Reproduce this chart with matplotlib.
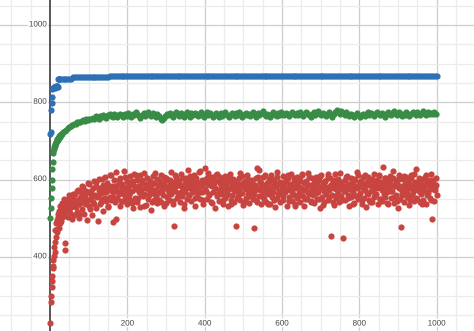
import matplotlib
matplotlib.use("Agg")
import matplotlib.pyplot as plt
import matplotlib.patheffects as pe
import numpy as np

# ---------------- data ----------------
red_x = list(range(1, 41)) + list(range(42, 1001, 2))
red_y = [
    230, 284, 300, 321, 338, 350, 371, 377, 392, 402, 426, 413, 439, 470, 452, 488, 495, 471, 465, 503,
    512, 476, 520, 498, 531, 488, 507, 525, 493, 540, 517, 502, 534, 514, 549, 505, 528, 418, 436, 545,
    531, 548, 503, 560, 522, 514, 541, 497, 556, 533, 509, 562, 528, 545, 516, 574, 538, 501, 553, 567,
    524, 546, 581, 512, 559, 537, 570, 495, 548, 589, 531, 566, 552, 508, 577, 543, 596, 561, 527, 584,
    556, 492, 573, 601, 538, 565, 549, 587, 520, 578, 607, 544, 569, 590, 533, 575, 556, 612, 548, 583,
    491, 567, 598, 541, 576, 619, 552, 585, 563, 532, 604, 571, 589, 545, 580, 623, 558, 574, 596, 537,
    582, 561, 609, 548, 593, 570, 526, 587, 615, 553, 578, 599, 542, 584, 568, 611, 530, 575, 592, 557,
    618, 564, 588, 535, 579, 603, 550, 572, 596, 521, 585, 566, 609, 547, 591, 574, 558, 601, 539, 583,
    569, 596, 543, 612, 577, 560, 590, 531, 581, 605, 554, 573, 598, 546, 586, 619, 562, 578, 537, 594,
    480, 571, 607, 553, 588, 565, 599, 542, 583, 614, 558, 576, 527, 592, 569, 603, 549, 585, 626, 561,
    579, 598, 544, 587, 568, 611, 533, 582, 604, 556, 591, 573, 620, 549, 586, 567, 600, 538, 594, 629,
    575, 602, 551, 588, 617, 564, 595, 541, 583, 608, 569, 590, 526, 579, 613, 558, 597, 574, 545, 606,
    586, 563, 599, 537, 578, 610, 552, 589, 571, 531, 596, 575, 614, 548, 582, 560, 601, 543, 587, 570,
    480, 592, 557, 605, 573, 546, 588, 565, 609, 534, 581, 597, 553, 576, 611, 562, 590, 539, 584, 568,
    599, 551, 585, 475, 572, 604, 547, 630, 579, 626, 558, 593, 536, 583, 567, 608, 549, 586, 574, 542,
    590, 563, 602, 538, 577, 612, 555, 584, 569, 597, 528, 581, 606, 552, 588, 571, 543, 595, 564, 580,
    609, 547, 586, 568, 598, 531, 576, 603, 556, 589, 572, 615, 544, 582, 561, 594, 537, 579, 607, 553,
    585, 566, 600, 541, 578, 612, 557, 590, 532, 574, 596, 549, 583, 618, 562, 587, 545, 571, 604, 559,
    592, 539, 576, 608, 551, 584, 567, 599, 526, 580, 611, 555, 588, 570, 543, 596, 563, 582, 607, 548,
    574, 603, 455, 586, 560, 595, 535, 579, 614, 552, 589, 568, 601, 541, 577, 593, 557, 585, 450, 571,
    598, 546, 583, 610, 561, 588, 533, 575, 604, 555, 591, 569, 540, 584, 600, 558, 579, 613, 549, 586,
    566, 597, 537, 581, 606, 553, 589, 572, 528, 594, 563, 608, 547, 585, 570, 601, 542, 578, 615, 559,
    588, 564, 599, 536, 582, 610, 551, 593, 574, 544, 633, 580, 603, 556, 590, 567, 538, 597, 576, 609,
    552, 586, 571, 604, 539, 583, 598, 560, 592, 527, 577, 611, 549, 478, 584, 566, 601, 543, 589, 573,
    606, 555, 581, 597, 534, 578, 612, 561, 587, 568, 545, 594, 575, 627, 550, 583, 604, 541, 590, 563,
    579, 602, 548, 586, 570, 611, 537, 592, 565, 584, 599, 553, 614, 498, 576, 588, 545, 581, 603, 559,
]

red_x2 = list(range(43, 1000, 4))
red_y2 = [
    519, 542, 556, 528, 563, 537, 548, 571, 512, 554, 583, 539, 566, 547, 590, 524, 571, 558, 536, 594,
    561, 579, 543, 602, 567, 552, 588, 529, 574, 611, 556, 583, 497, 569, 598, 544, 581, 562, 607, 550,
    587, 568, 540, 596, 575, 612, 553, 584, 566, 599, 531, 578, 604, 559, 589, 543, 572, 616, 561, 585,
    548, 592, 570, 607, 539, 581, 563, 598, 575, 545, 613, 584, 557, 592, 568, 603, 537, 579, 596, 560,
    610, 574, 589, 552, 597, 566, 621, 583, 548, 592, 571, 605, 559, 586, 540, 598, 577, 615, 563, 590,
    571, 546, 600, 583, 561, 609, 537, 588, 574, 596, 552, 580, 618, 566, 591, 543, 584, 602, 557, 578,
    596, 562, 585, 542, 607, 573, 590, 555, 612, 579, 536, 593, 568, 601, 547, 584, 620, 563, 589, 571,
    558, 594, 577, 611, 545, 586, 568, 603, 531, 582, 597, 561, 615, 574, 549, 590, 567, 606, 541, 583,
    601, 565, 588, 550, 609, 579, 534, 596, 572, 614, 556, 585, 543, 598, 576, 561, 592, 617, 548, 581,
    570, 606, 553, 589, 575, 538, 601, 582, 619, 560, 593, 547, 578, 611, 565, 587, 542, 599, 574, 556,
    594, 577, 612, 549, 586, 563, 604, 539, 582, 597, 570, 621, 556, 588, 545, 601, 575, 559, 609, 580,
    565, 591, 548, 603, 579, 614, 552, 587, 570, 598, 536, 583, 608, 561, 594, 575, 547, 600, 572, 586,
]

green_x = list(range(1, 31)) + list(range(34, 1001, 4))
green_y = [
    501, 527, 553, 578, 599, 627, 646, 669, 675, 680, 684, 688, 690, 693, 696, 698, 701, 703, 705, 703,
    708, 710, 707, 712, 714, 711, 716, 718, 715, 719,
    722, 726, 729, 733, 736, 738, 741, 744, 745, 748, 750, 748, 752, 754, 752, 756, 755, 758, 757, 760,
    758, 764, 761, 756, 765, 762, 768, 763, 759, 766, 769, 764, 761, 770, 766, 762, 768, 771, 766, 763,
    770, 765, 773, 767, 762, 771, 766, 774, 769, 764, 760, 768, 772, 765, 770, 775, 768, 764, 772, 767,
    762, 770, 765, 757, 753, 759, 765, 770, 766, 772, 767, 762, 769, 774, 770, 765, 772, 767, 763, 770,
    775, 768, 763, 772, 766, 773, 769, 764, 771, 776, 768, 763, 770, 774, 766, 772, 768, 762, 767, 773,
    768, 763, 772, 765, 770, 775, 766, 761, 768, 773, 770, 764, 772, 767, 776, 769, 763, 768, 773, 766,
    771, 765, 770, 775, 768, 763, 772, 766, 773, 777, 769, 764, 771, 768, 762, 770, 775, 768, 764, 773,
    768, 776, 771, 766, 773, 769, 764, 771, 776, 769, 766, 773, 768, 775, 771, 764, 770, 776, 772, 767,
    763, 770, 775, 768, 773, 778, 771, 766, 773, 769, 764, 771, 776, 768, 762, 770, 775, 780, 776, 771,
    777, 772, 767, 774, 769, 764, 771, 766, 761, 768, 773, 766, 761, 768, 771, 765, 770, 775, 768, 773,
    770, 765, 771, 776, 769, 766, 773, 768, 763, 770, 775, 771, 766, 773, 778, 771, 768, 774, 770, 765,
    771, 768, 774, 770, 765, 771, 776, 773, 768, 774, 771, 766, 773, 778, 771, 768, 774, 770, 773, 771,
    774, 771,
]

blue_x = list(range(1, 26)) + list(range(30, 1001, 5))
blue_y = [
    718, 722, 780, 798, 815, 834, 836, 837, 838, 839, 840, 838, 839, 840, 841, 840, 839, 841, 842, 840,
    860, 860, 860, 860, 860,
    860, 860, 860, 860, 860, 860,
    865, 865, 865, 865, 865, 865, 865, 865, 865, 865, 865, 865, 865, 865, 865, 865, 865, 865, 865,
    869, 869, 869, 869, 869, 869, 869, 869, 869, 869, 869, 869, 869, 869, 869, 869, 869, 869, 869, 869,
    869, 869, 869, 869, 869, 869, 869, 869, 869, 869, 869, 869, 869, 869, 869, 869, 869, 869, 869, 869,
    869, 869, 869, 869, 869, 869, 869, 869, 869, 869, 869, 869, 869, 869, 869, 869, 869, 869, 869, 869,
    869, 869, 869, 869, 869, 869, 869, 869, 869, 869, 869, 869, 869, 869, 869, 869, 869, 869, 869, 869,
    869, 869, 869, 869, 869, 869, 869, 869, 869, 869, 869, 869, 869, 869, 869, 869, 869, 869, 869, 869,
    869, 869, 869, 869, 869, 869, 869, 869, 869, 869, 869, 869, 869, 869, 869, 869, 869, 869, 869, 869,
    869, 869, 869, 869, 869, 869, 869, 869, 869, 869, 869, 869, 869, 869, 869, 869, 869, 869, 869, 869,
    869, 869, 869, 869, 869, 869, 869, 869, 869, 869, 869, 869, 869, 869, 869, 869, 869, 869, 869, 869,
    869, 869, 869, 869, 869, 869, 869, 869, 869, 869,
]

x_ticks = [200, 400, 600, 800, 1000]
y_ticks = [400, 600, 800, 1000]
x_tick_labels = ["200", "400", "600", "800", "1000"]
y_tick_labels = ["400", "600", "800", "1000"]

RED = "#c74440"
GREEN = "#388c46"
BLUE = "#2d70b3"

# ---------------- figure ----------------
fig = plt.figure(figsize=(4.74, 3.31), dpi=100)
ax = fig.add_axes([0, 0, 1, 1])
ax.set_xlim(-129.4, 1097)
ax.set_ylim(208.3, 1064.7)
for s in ax.spines.values():
    s.set_visible(False)
ax.set_xticks([])
ax.set_yticks([])

# grid
for v in np.arange(-100, 1101, 50):
    major = (v % 200 == 0)
    if v == 0:
        continue
    ax.axvline(v, color="#cdcdcd" if major else "#ececec", lw=0.9, zorder=0)
for v in np.arange(250, 1051, 50):
    major = (v % 200 == 0)
    ax.axhline(v, color="#cdcdcd" if major else "#ececec", lw=0.9, zorder=0)
ax.axvline(0, color="#4a4a4a", lw=1.3, zorder=1)

# data
ms = 20
ax.scatter(red_x, red_y, s=ms, color=RED, linewidths=0, zorder=3)
ax.scatter(red_x2, red_y2, s=ms, color=RED, linewidths=0, zorder=3)
ax.scatter(green_x, green_y, s=ms, color=GREEN, linewidths=0, zorder=4)
ax.scatter(blue_x, blue_y, s=ms, color=BLUE, linewidths=0, zorder=5)

# labels
halo = [pe.withStroke(linewidth=2.5, foreground="white")]
fs = 5.8
for v, t in zip(y_ticks, y_tick_labels):
    ax.annotate(t, xy=(0, v), xytext=(-2.5, 0), textcoords="offset points",
                ha="right", va="center", fontsize=fs, color="#444444",
                family="Liberation Sans", path_effects=halo, zorder=6)
for v, t in zip(x_ticks, x_tick_labels):
    ax.text(v, 0.021, t, transform=ax.get_xaxis_transform(), ha="center", va="center",
            fontsize=fs, color="#444444", family="Liberation Sans",
            path_effects=halo, zorder=6)

fig.savefig("out.png", dpi=100)
